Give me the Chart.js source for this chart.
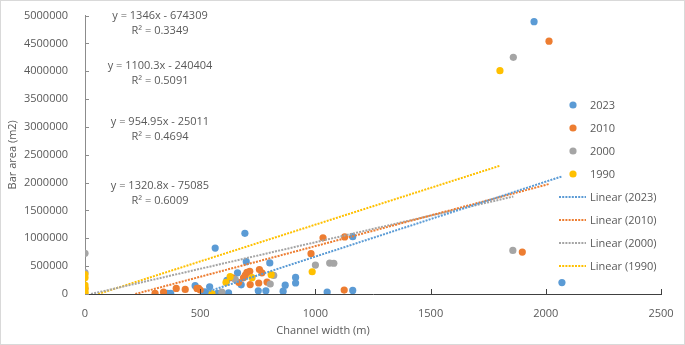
<!DOCTYPE html>
<html>
<head>
<meta charset="utf-8">
<script src="https://cdn.jsdelivr.net/npm/chart.js@4.4.0/dist/chart.umd.min.js"></script>
<style>
html, body { margin: 0; padding: 0; background: #fff; }
#wrap { width: 685px; height: 345px; position: relative; }
</style>
</head>
<body>
<div id="wrap"><canvas id="barChart"></canvas></div>
<script>
// values (channel width in m, bar area in m2)
const years = ["2023", "2010", "2000", "1990"];
const colors = ["#5B9BD5", "#ED7D31", "#A5A5A5", "#FFC000"];

const width2023 = [1949, 2070, 1162, 1162, 1051, 914, 914, 869, 860, 802, 785, 752, 700, 694, 678, 662, 616, 623, 575, 565, 541, 529, 478, 520, 372, 358];
const area2023 = [4890000, 205000, 1030000, 65000, 35000, 298000, 198000, 158000, 50000, 558000, 58000, 58000, 580000, 1090000, 165000, 380000, 245000, 20000, 10000, 824000, 128000, 12000, 150000, 40000, 10000, 10000];

const width2010 = [2014, 1898, 1127, 1125, 1033, 981, 768, 757, 790, 754, 717, 715, 703, 696, 688, 667, 640, 493, 486, 500, 435, 396, 341, 304, 0];
const area2010 = [4540000, 753000, 1025000, 70000, 1010000, 724000, 380000, 440000, 214000, 198000, 170000, 408000, 391000, 340000, 290000, 210000, 290000, 100000, 100000, 70000, 82000, 100000, 35000, 12000, 100000];

const width2000 = [1859, 1857, 1000, 1062, 1080, 819, 804, 652, 594, 0, 0];
const area2000 = [4250000, 783000, 520000, 556000, 552000, 333000, 180000, 265000, 32000, 730000, 385000];

const width1990 = [1801, 986, 808, 725, 630, 612, 551, 0, 0, 0, 0, 0, 0];
const area1990 = [4010000, 400000, 347000, 293000, 312000, 208000, 5000, 350000, 290000, 160000, 100000, 40000, 5000];

// linear trendlines as printed on the chart
const slopes = [1346, 1100.3, 954.95, 1320.8];
const intercepts = [-674309, -240404, -25011, -75085];
const rSquared = ["0.3349", "0.5091", "0.4694", "0.6009"];

const xTicks = [0, 500, 1000, 1500, 2000, 2500];
const yTicks = [0, 500000, 1000000, 1500000, 2000000, 2500000, 3000000, 3500000, 4000000, 4500000, 5000000];

const widths = [width2023, width2010, width2000, width1990];
const areas = [area2023, area2010, area2000, area1990];

const textColor = "#595959";
const fontFam = "'Open Sans', sans-serif";

let datasets = [];
years.forEach((yr, i) => {
    datasets.push({
        type: "scatter",
        label: yr,
        data: widths[i].map((w, k) => ({ x: w, y: areas[i][k] })),
        backgroundColor: colors[i],
        borderWidth: 0,
        pointRadius: 3.6,
        pointHoverRadius: 3.6,
        order: 4 - i,
    });
});
years.forEach((yr, i) => {
    // trendline runs over the series' x range, cut where it drops below 0
    const m = slopes[i], b = intercepts[i];
    const x0 = Math.max(Math.min(...widths[i]), -b / m);
    const x1 = Math.max(...widths[i]);
    datasets.push({
        type: "line",
        label: "Linear (" + yr + ")",
        data: [{ x: x0, y: m * x0 + b }, { x: x1, y: m * x1 + b }],
        borderColor: colors[i],
        borderWidth: 2,
        borderDash: [2, 1.2],
        pointRadius: 0,
        fill: false,
        order: 0,
    });
});

const excelDecor = {
    id: "excelDecor",
    afterDraw(chart) {
        const ctx = chart.ctx;
        const area = chart.chartArea;
        const xs = chart.scales.x, ys = chart.scales.y;
        ctx.save();

        // inside tick marks
        ctx.lineWidth = 1;
        ctx.strokeStyle = "#404040";
        xTicks.forEach(v => {
            if (v === 0) return;
            const px = Math.round(xs.getPixelForValue(v)) + 0.5;
            ctx.beginPath();
            ctx.moveTo(px, area.bottom);
            ctx.lineTo(px, area.bottom - 5);
            ctx.stroke();
        });
        ctx.strokeStyle = "#8c8c8c";
        yTicks.forEach(v => {
            const py = Math.round(ys.getPixelForValue(v)) + 0.5;
            ctx.beginPath();
            ctx.moveTo(area.left, py);
            ctx.lineTo(area.left + 4, py);
            ctx.stroke();
        });

        // trendline equations
        ctx.fillStyle = textColor;
        ctx.font = "11px " + fontFam;
        ctx.textAlign = "center";
        ctx.textBaseline = "middle";
        const eqTop = [16, 66, 122, 186];
        slopes.forEach((m, i) => {
            const cx = area.left + 75;
            ctx.fillText("y = " + m + "x - " + Math.abs(intercepts[i]), cx, eqTop[i]);
            ctx.fillText("R\u00B2 = " + rSquared[i], cx, eqTop[i] + 15);
        });

        // legend
        ctx.textAlign = "left";
        const lx = area.right - 88;
        let ly = 105;
        years.forEach((yr, i) => {
            ctx.fillStyle = colors[i];
            ctx.beginPath();
            ctx.arc(lx, ly, 3.6, 0, Math.PI * 2);
            ctx.fill();
            ctx.fillStyle = textColor;
            ctx.fillText(yr, lx + 17, ly + 1);
            ly += 23;
        });
        years.forEach((yr, i) => {
            ctx.strokeStyle = colors[i];
            ctx.lineWidth = 2;
            ctx.setLineDash([2, 1.2]);
            ctx.beginPath();
            ctx.moveTo(lx - 14, ly);
            ctx.lineTo(lx + 13, ly);
            ctx.stroke();
            ctx.setLineDash([]);
            ctx.fillStyle = textColor;
            ctx.fillText("Linear (" + yr + ")", lx + 17, ly + 1);
            ly += 23;
        });

        // axis titles
        ctx.textAlign = "center";
        ctx.fillText("Channel width (m)", 323, 331);
        ctx.translate(13, (area.top + area.bottom) / 2);
        ctx.rotate(-Math.PI / 2);
        ctx.fillText("Bar area (m2)", 0, 0);
        ctx.restore();

        // outer frame
        ctx.save();
        ctx.strokeStyle = "#d9d9d9";
        ctx.lineWidth = 1;
        ctx.strokeRect(0.5, 0.5, chart.width - 1, chart.height - 1);
        ctx.restore();
    }
};

const ctx = document.getElementById("barChart").getContext("2d");
new Chart(ctx, {
    type: "scatter",
    data: { datasets: datasets },
    options: {
        responsive: true,
        maintainAspectRatio: false,
        animation: false,
        events: [],
        layout: { padding: { left: 5, right: 24, top: 9, bottom: 21 } },
        plugins: {
            legend: { display: false },
            tooltip: { enabled: false },
        },
        scales: {
            x: {
                type: "linear",
                min: 0,
                max: 2500,
                grid: { display: false },
                border: { display: true, color: "#404040", width: 1 },
                afterBuildTicks: (scale) => { scale.ticks = xTicks.map(v => ({ value: v })); },
                afterFit: (scale) => { scale.height = 30; },
                ticks: {
                    color: textColor,
                    padding: 5,
                    font: { family: fontFam, size: 11 },
                    maxRotation: 0,
                    callback: (v) => v,
                },
            },
            y: {
                type: "linear",
                min: 0,
                max: 5000000,
                grid: { display: false },
                border: { display: true, color: "#8c8c8c", width: 1 },
                afterBuildTicks: (scale) => { scale.ticks = yTicks.map(v => ({ value: v })); },
                afterFit: (scale) => { scale.width = 80; },
                ticks: {
                    color: textColor,
                    padding: 9,
                    font: { family: fontFam, size: 11 },
                    callback: (v) => v,
                },
            },
        },
    },
    plugins: [excelDecor],
});
</script>
</body>
</html>
